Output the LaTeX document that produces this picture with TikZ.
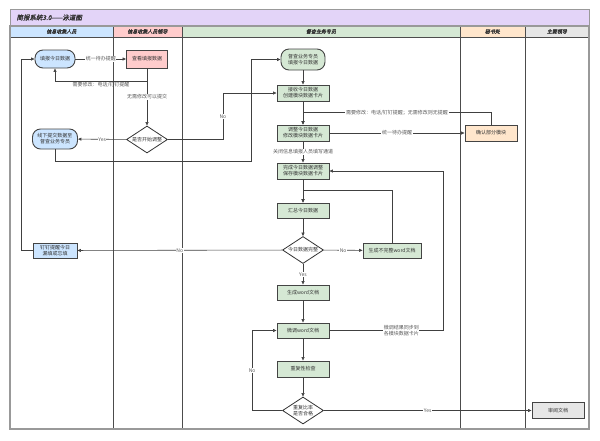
\documentclass[tikz,border=0pt]{standalone}
\usepackage{fontspec}
\setmainfont{Noto Sans CJK SC}
\newfontfamily\headfont[FakeSlant=0.2,FakeBold=1.2]{Noto Sans CJK SC}
\usetikzlibrary{arrows.meta,shapes.geometric}
\definecolor{titlepurple}{HTML}{E3D4F8}
\definecolor{infoblue}{HTML}{CCE5FF}
\definecolor{leadpink}{HTML}{FFCCCC}
\definecolor{supgreen}{HTML}{D5E8D4}
\definecolor{secorange}{HTML}{FFE6CC}
\definecolor{headgray}{HTML}{E6E6E6}
\definecolor{boxline}{HTML}{444444}
\definecolor{frame}{HTML}{999999}

\begin{document}
\begin{tikzpicture}[x=1pt,y=-1pt,
    box/.style={draw=boxline,line width=0.9pt,minimum width=52pt,minimum height=16pt,
      inner sep=1pt,align=center,text=black!80,font=\fontsize{5}{6}\selectfont},
    term/.style={box,rounded corners=8pt},
    choice/.style={draw=black!80,line width=0.8pt,diamond,aspect=1.5,fill=white,inner sep=0pt,
      minimum width=41pt,minimum height=27pt,align=center,text=black!80,font=\fontsize{5}{6}\selectfont},
    lbl/.style={fill=white,inner sep=0.6pt,align=center,text=black!65,font=\fontsize{5}{6}\selectfont},
    flow/.style={draw=black!75,line width=0.6pt,-{Triangle[length=3.5pt,width=3pt]}},
    lane/.style={draw=black!70,line width=0.6pt},
    lanehead/.style={draw=black!70,line width=0.6pt},
    headtext/.style={font=\headfont\fontsize{5}{6}\selectfont,text=black!80}]
  \useasboundingbox (0,0) rectangle (600,440);
  % title bar and lanes
  \draw[frame,fill=titlepurple,line width=1pt] (10,9) rectangle (589,26);
  \node[anchor=west,font=\headfont\fontsize{6.5}{7}\selectfont,text=black!80] (title) at (13,17.5) {简报系统3.0——泳道图};
  \draw[lanehead,fill=infoblue] (10,26) rectangle (113,37);
  \draw[lanehead,fill=leadpink] (113,26) rectangle (182,37);
  \draw[lanehead,fill=supgreen] (182,26) rectangle (460,37);
  \draw[lanehead,fill=secorange] (460,26) rectangle (525,37);
  \draw[lanehead,fill=headgray] (525,26) rectangle (589,37);
  \node[headtext] (h1) at (61.5,31.5) {信息收集人员};
  \node[headtext] (h2) at (147.5,31.5) {信息收集人员领导};
  \node[headtext] (h3) at (321,31.5) {督查业务专员};
  \node[headtext] (h4) at (492.5,31.5) {秘书处};
  \node[headtext] (h5) at (557,31.5) {主要领导};
  \foreach \x in {113,182,460,525}
    \draw[lane] (\x,37) -- (\x,429);
  \draw[frame,line width=1.2pt] (10,26) rectangle (589,429);

  % nodes
  \node[term,fill=infoblue,minimum width=40pt,minimum height=18pt] (fill) at (55,59) {填报今日数据};
  \node[box,fill=leadpink,minimum width=41pt,minimum height=18pt] (view) at (147,59) {查看填报数据};
  \node[choice] (adjust) at (147,139.5) {是否开始调整};
  \node[term,fill=infoblue,minimum width=45pt,minimum height=20pt] (offline) at (55,139) {线下提交数据至\\督查业务专员};
  \node[box,fill=infoblue,minimum width=44pt,minimum height=15pt] (remind) at (55,250.5) {钉钉提醒今日\\漏填或忘填};
  \node[term,fill=supgreen,minimum width=44pt,minimum height=21pt] (sfill) at (303,59.5) {督查业务专员\\填报今日数据};
  \node[box,fill=supgreen] (recv) at (303,93) {接收今日数据\\创建模块数据卡片};
  \node[box,fill=supgreen] (modify) at (303,133) {调整今日数据\\修改模块数据卡片};
  \node[box,fill=supgreen] (done) at (303,171) {完成今日数据调整\\保存模块数据卡片};
  \node[box,fill=supgreen,minimum height=15pt] (sum) at (303,210.5) {汇总今日数据};
  \node[choice] (full) at (303,250) {今日数据完整};
  \node[box,fill=supgreen,minimum width=58pt,minimum height=15pt] (partial) at (392,250.5) {生成不完整word文档};
  \node[box,fill=supgreen,minimum height=15pt] (gen) at (303,292.5) {生成word文档};
  \node[box,fill=supgreen,minimum height=15pt] (tune) at (303,330.5) {微调word文档};
  \node[box,fill=supgreen] (dup) at (303,369) {重复性检查};
  \node[choice] (rate) at (303,410.5) {重复比率\\是否合格};
  \node[box,fill=secorange] (confirm) at (491,133) {确认部分模块};
  \node[box,fill=headgray] (review) at (558,410.5) {审阅文档};

  % connectors
  \draw[flow] (fill) -- node[lbl]{统一待办提醒} (view);
  \draw[flow] (view.south) -- ++(0,13) -| node[lbl,below,pos=0.25,fill=none]{需要修改：电话/钉钉提醒} (fill.south);
  \draw[flow] (view) -- node[lbl]{无需修改可以提交} (adjust);
  \draw[flow] (adjust) -- node[lbl]{Yes} (offline);
  \draw[flow] (adjust.east) -- ++(55,0) |- node[lbl,pos=0.25]{No} (recv.west);
  \draw[flow] (offline.south) -- ++(0,12) -- ++(196,0) |- (sfill.west);
  \draw[flow] (remind.west) -- ++(-11,0) |- (fill.west);
  \draw[flow] (sfill) -- (recv);
  \draw[flow] (recv) -- (modify);
  \draw[flow] (confirm.north) -- ++(0,-12) -| node[lbl,pos=0.25]{需要修改：电话/钉钉提醒；无需修改则无提醒} (modify.north);
  \draw[flow] (modify) -- node[lbl]{统一待办提醒} (confirm);
  \draw[flow] (modify) -- node[lbl]{关闭信息填报人员填写通道} (done);
  \draw[flow] (done) -- (sum);
  \draw[flow] (partial.north) -- ++(0,-52) -| (sum.north);
  \draw[flow] (sum) -- (full);
  \draw[flow] (full) -- node[lbl]{No} (partial);
  \draw[flow] (full) -- node[lbl]{No} (remind);
  \draw[flow] (full) -- node[lbl]{Yes} (gen);
  \draw[flow] (gen) -- (tune);
  \draw[flow] (tune.east) -- node[lbl,pos=0.63]{微调结果同步到\\各模块数据卡片} ++(114,0) |- (done.east);
  \draw[flow] (tune) -- (dup);
  \draw[flow] (dup) -- (rate);
  \draw[flow] (rate.west) -- ++(-30,0) |- node[lbl,pos=0.25]{No} (tune.west);
  \draw[flow] (rate) -- node[lbl]{Yes} (review);
\end{tikzpicture}
\end{document}
